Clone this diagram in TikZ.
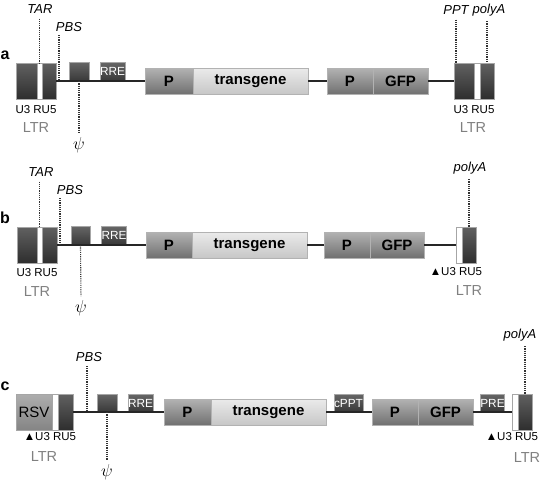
\documentclass[tikz,border=0pt]{standalone}
\usepackage{fontspec}
\setmainfont{Liberation Sans}
\usetikzlibrary{calc}

\begin{document}
\begin{tikzpicture}[x=1pt,y=-1pt,
	ltr/.style={draw=black!35,top color=black!62,bottom color=black!82,minimum height=36pt,inner sep=0pt},
	gap/.style={draw=black!35,fill=white,minimum height=36pt,inner sep=0pt},
	elem/.style={draw=black!35,top color=black!60,bottom color=black!78,minimum height=19pt,inner sep=0pt,text=white,font=\fontsize{11.8}{13}\selectfont},
	gene/.style={draw=black!30,top color=black!30,bottom color=black!56,minimum height=26pt,inner sep=0pt,font=\bfseries\fontsize{15}{18}\selectfont},
	insert/.style={gene,top color=black!8,bottom color=black!22},
	rsv/.style={ltr,top color=black!32,bottom color=black!48,font=\fontsize{15}{18}\selectfont},
	backbone/.style={draw=black!85,line width=1.2pt},
	site/.style={draw=black!80,line width=1.1pt,dash pattern=on 1.1pt off 1.1pt},
	sitelbl/.style={font=\itshape\fontsize{13}{15}\selectfont,inner sep=1pt},
	psilbl/.style={font=\fontsize{18}{20}\selectfont,inner sep=1pt},
	part/.style={font=\fontsize{11.5}{13}\selectfont,inner sep=0pt},
	ltrlbl/.style={text=black!50,font=\fontsize{14.5}{17}\selectfont,inner sep=0pt},
	panel/.style={font=\bfseries\fontsize{16}{18}\selectfont,inner sep=0pt}]
	\useasboundingbox (0,0) rectangle (542,483);

	% row a
	\draw (5,55) node (a) [panel] {a};
	\draw (26.5,81) node (aU3) [ltr,minimum width=21pt] {};
	\draw (39.5,81) node (aW) [gap,minimum width=5pt] {};
	\draw (49,81) node (aR) [ltr,minimum width=14pt] {};
	\draw (79,71.5) node (aPsi) [elem,minimum width=20pt] {};
	\draw (112.5,71.5) node (aRRE) [elem,minimum width=23pt] {RRE};
	\draw (169,81) node (aP) [gene,minimum width=48pt] {P};
	\draw (250.5,81) node (aTG) [insert,minimum width=115pt] {transgene};
	\draw (350,81) node (aP2) [gene,minimum width=46pt] {P};
	\draw (400.5,81) node (aGFP) [gene,minimum width=55pt] {GFP};
	\draw (464,81) node (aU3r) [ltr,minimum width=20pt] {};
	\draw (477,81) node (aWr) [gap,minimum width=6pt] {};
	\draw (487,81) node (aRr) [ltr,minimum width=14pt] {};

	\draw[backbone] (aR.east) -- (aP.west);
	\draw[backbone] (aTG.east) -- (aP2.west);
	\draw[backbone] (aGFP.east) -- (aU3r.west);

	\node (aTAR) [sitelbl] at (40,9) {TAR};
	\node (aPBS) [sitelbl] at (69,27) {PBS};
	\node (aPsil) [psilbl] at (79,145) {$\psi$};
	\node (aPPT) [sitelbl] at (456,10) {PPT};
	\node (apolyA) [sitelbl] at (489,10) {polyA};
	\coordinate (aPBSs) at (59,35);
	\draw[site,shorten <=4pt] (aW.north |- aTAR.south) -- (aW.north);
	\draw[site] (aPBSs) -- (aPBSs |- aR.east);
	\draw[site,shorten >=3pt] (aPsi.south) -- (aPsil.north);
	\draw[site,shorten <=4pt] (aPPT.south) -- (aPPT.south |- aU3r.north);
	\draw[site,shorten <=4pt] (aRr.north |- apolyA.south) -- (aRr.north);

	\node (aparts) [part] at (36,110) {U3 RU5};
	\node (altr) [ltrlbl] at (36,128) {LTR};
	\node (apartsr) [part] at (474,110) {U3 RU5};
	\node (altrr) [ltrlbl] at (473,128) {LTR};

	% row b
	\draw (5,218) node (b) [panel] {b};
	\draw (27,245) node (bU3) [ltr,minimum width=20pt] {};
	\draw (39.5,245) node (bW) [gap,minimum width=5pt] {};
	\draw (49.5,245) node (bR) [ltr,minimum width=15pt] {};
	\draw (80.5,235.5) node (bPsi) [elem,minimum width=19pt] {};
	\draw (114,235.5) node (bRRE) [elem,minimum width=24pt] {RRE};
	\draw (169,245) node (bP) [gene,minimum width=46pt] {P};
	\draw (249.5,245) node (bTG) [insert,minimum width=115pt] {transgene};
	\draw (347,245) node (bP2) [gene,minimum width=46pt] {P};
	\draw (397,245) node (bGFP) [gene,minimum width=54pt] {GFP};
	\draw (459,245) node (bWr) [gap,minimum width=6pt] {};
	\draw (469,245) node (bRr) [ltr,minimum width=14pt] {};

	\draw[backbone] (bR.east) -- (bP.west);
	\draw[backbone] (bTG.east) -- (bP2.west);
	\draw[backbone] (bGFP.east) -- (bWr.west);

	\node (bTAR) [sitelbl] at (41,172) {TAR};
	\node (bPBS) [sitelbl] at (70,190) {PBS};
	\node (bPsil) [psilbl] at (81,308) {$\psi$};
	\node (bpolyA) [sitelbl] at (470,168) {polyA};
	\coordinate (bPBSs) at (60,198);
	\draw[site,shorten <=4pt] (bW.north |- bTAR.south) -- (bW.north);
	\draw[site] (bPBSs) -- (bPBSs |- bR.east);
	\draw[site,shorten >=3pt] (bPsi.south) -- (bPsil.north);
	\draw[site,shorten <=4pt] (bRr.north |- bpolyA.south) -- (bRr.north);

	\node (bparts) [part] at (37,273) {U3 RU5};
	\node (bltr) [ltrlbl] at (37,292) {LTR};
	\node (bpartsr) [part] at (456,272) {▲U3 RU5};
	\node (bltrr) [ltrlbl] at (469,291) {LTR};

	% row c
	\draw (5,386) node (c) [panel] {c};
	\draw (34,412) node (cRSV) [rsv,minimum width=36pt] {RSV};
	\draw (55,412) node (cW) [gap,minimum width=6pt] {};
	\draw (65.5,412) node (cR) [ltr,minimum width=15pt] {};
	\draw (107,403) node (cPsi) [elem,minimum width=20pt,minimum height=18pt] {};
	\draw (140.5,403) node (cRRE) [elem,minimum width=23pt,minimum height=18pt] {RRE};
	\draw (187.5,412) node (cP) [gene,minimum width=47pt] {P};
	\draw (268.5,412) node (cTG) [insert,minimum width=115pt] {transgene};
	\draw (348.5,403) node (cPPT) [elem,minimum width=27pt,minimum height=18pt] {cPPT};
	\draw (395,412) node (cP2) [gene,minimum width=46pt] {P};
	\draw (445.5,412) node (cGFP) [gene,minimum width=55pt] {GFP};
	\draw (492.5,403) node (cPRE) [elem,minimum width=23pt,minimum height=18pt] {PRE};
	\draw (515,412) node (cWr) [gap,minimum width=6pt] {};
	\draw (525,412) node (cRr) [ltr,minimum width=14pt] {};

	\draw[backbone] (cR.east) -- (cP.west);
	\draw[backbone] (cTG.east) -- (cP2.west);
	\draw[backbone] (cGFP.east) -- (cWr.west);

	\node (cPBS) [sitelbl] at (89,357) {PBS};
	\node (cPsil) [psilbl] at (107,472) {$\psi$};
	\node (cpolyA) [sitelbl] at (520,335) {polyA};
	\coordinate (cPBSs) at (87,366);
	\draw[site] (cPBSs) -- (cPBSs |- cR.east);
	\draw[site,shorten >=3pt] (cPsi.south) -- (cPsil.north);
	\draw[site,shorten <=4pt] (cRr.north |- cpolyA.south) -- (cRr.north);

	\node (cparts) [part] at (50,437) {▲U3 RU5};
	\node (cltr) [ltrlbl] at (44,457) {LTR};
	\node (cpartsr) [part] at (512,437) {▲U3 RU5};
	\node (cltrr) [ltrlbl] at (527,458) {LTR};
\end{tikzpicture}
\end{document}
